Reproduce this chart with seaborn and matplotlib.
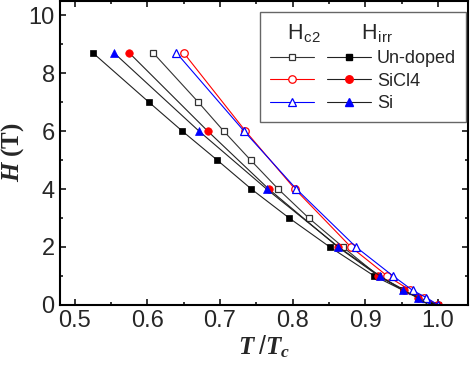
"""H-T phase diagram: Hc2 and Hirr vs reduced temperature."""

import matplotlib
matplotlib.use("Agg")
import pandas as pd
import matplotlib.pyplot as plt
import seaborn as sns
from matplotlib.lines import Line2D
from matplotlib.legend_handler import HandlerTuple
from matplotlib.ticker import MultipleLocator

# Field steps (T)
h_undoped = [8.7, 7, 6, 5, 4, 3, 2, 1, 0.5, 0.25, 0]
h_doped = [8.7, 6, 4, 2, 1, 0.5, 0.25, 0]

# Reduced temperature T/Tc
t_hc2_undoped = [0.608, 0.670, 0.705, 0.742, 0.780, 0.822, 0.869, 0.918, 0.955, 0.975, 1.0]
t_hirr_undoped = [0.525, 0.602, 0.648, 0.696, 0.743, 0.795, 0.851, 0.912, 0.952, 0.972, 0.995]
t_hc2_sicl4 = [0.650, 0.735, 0.803, 0.880, 0.930, 0.962, 0.981, 1.0]
t_hirr_sicl4 = [0.575, 0.683, 0.767, 0.862, 0.918, 0.953, 0.973, 1.0]
t_hc2_si = [0.640, 0.733, 0.805, 0.887, 0.938, 0.965, 0.984, 1.0]
t_hirr_si = [0.554, 0.671, 0.764, 0.863, 0.920, 0.952, 0.972, 0.987]

samples = ["Un-doped", "SiCl4", "Si"]
sample_colors = {"Un-doped": "#333333", "SiCl4": "#ff0000", "Si": "#0000ff"}
sample_markers = {"Un-doped": "s", "SiCl4": "o", "Si": "^"}
sample_msize = {"Un-doped": 4.6, "SiCl4": 5.4, "Si": 5.6}
hirr_line = "#222222"

# long table
rows = []
series = {
    ("Un-doped", "Hc2"): (t_hc2_undoped, h_undoped),
    ("Un-doped", "Hirr"): (t_hirr_undoped, h_undoped),
    ("SiCl4", "Hc2"): (t_hc2_sicl4, h_doped),
    ("SiCl4", "Hirr"): (t_hirr_sicl4, h_doped),
    ("Si", "Hc2"): (t_hc2_si, h_doped),
    ("Si", "Hirr"): (t_hirr_si, h_doped),
}
for (sample, kind), (tt, hh) in series.items():
    for t, h in zip(tt, hh):
        rows.append({"sample": sample, "kind": kind, "t": t, "H": h})
df = pd.DataFrame(rows)

sns.set_style("ticks")
plt.rcParams["font.family"] = ["Liberation Sans", "DejaVu Sans"]
plt.rcParams["mathtext.fontset"] = "custom"
plt.rcParams["mathtext.rm"] = "Liberation Sans"
plt.rcParams["mathtext.it"] = "Liberation Serif:italic:bold"
plt.rcParams["mathtext.bf"] = "Liberation Serif:bold"

fig = plt.figure(figsize=(4.74, 3.66), dpi=100)
ax = fig.add_axes([0.127, 0.167, 0.860, 0.831])

for sample in samples:
    c = sample_colors[sample]
    m = sample_markers[sample]
    ms = sample_msize[sample]
    sub = df[(df["sample"] == sample) & (df["kind"] == "Hc2")]
    sns.lineplot(data=sub, x="t", y="H", ax=ax, estimator=None, sort=False,
                 color=c, lw=0.8, marker=m, markersize=ms,
                 markerfacecolor="white", markeredgecolor=c, markeredgewidth=0.9,
                 legend=False)
    sub = df[(df["sample"] == sample) & (df["kind"] == "Hirr")]
    fc = "black" if sample == "Un-doped" else c
    sns.lineplot(data=sub, x="t", y="H", ax=ax, estimator=None, sort=False,
                 color=hirr_line, lw=0.8, marker=m, markersize=ms,
                 markerfacecolor=fc, markeredgecolor=fc, markeredgewidth=0.5,
                 legend=False)

ax.set_xlim(0.48, 1.041)
ax.set_ylim(0, 10.5)
ax.xaxis.set_major_locator(MultipleLocator(0.1))
ax.xaxis.set_minor_locator(MultipleLocator(0.05))
ax.yaxis.set_major_locator(MultipleLocator(2))
ax.yaxis.set_minor_locator(MultipleLocator(1))
ax.tick_params(which="both", direction="in", top=True, right=True,
               labelsize=17, width=1.3, pad=4)
ax.tick_params(which="major", length=4)
ax.tick_params(which="minor", length=2.2)
for sp in ax.spines.values():
    sp.set_linewidth(1.5)
    sp.set_color("black")
ax.set_xticks([0.5, 0.6, 0.7, 0.8, 0.9, 1.0])
ax.set_xticklabels(["0.5", "0.6", "0.7", "0.8", "0.9", "1.0"])

ax.set_xlabel(r"$T\;/T_{c}$", fontsize=18, labelpad=1)
ax.set_ylabel(r"$H\;\mathbf{(T)}$", fontsize=18, labelpad=2)

# legend: two handle columns (Hc2 open, Hirr filled)
handles = []
for sample in samples:
    c = sample_colors[sample]
    m = sample_markers[sample]
    ms = sample_msize[sample]
    fc = "black" if sample == "Un-doped" else c
    h1 = Line2D([], [], color=c, lw=0.8, marker=m, markersize=ms,
                markerfacecolor="white", markeredgecolor=c, markeredgewidth=0.9)
    h2 = Line2D([], [], color=hirr_line, lw=0.8, marker=m, markersize=ms,
                markerfacecolor=fc, markeredgecolor=fc)
    handles.append((h1, h2))

leg = ax.legend(handles, samples, loc="upper right",
                bbox_to_anchor=(0.995, 0.962), borderaxespad=0,
                handler_map={tuple: HandlerTuple(ndivide=None, pad=0.7)},
                numpoints=1, handlelength=5.6, handletextpad=0.3,
                labelspacing=0.3, borderpad=0.55, fontsize=13, frameon=True,
                fancybox=False, edgecolor="#666666", framealpha=1,
                title="   " + r"$\mathrm{H_{c2}}$" + "       " + r"$\mathrm{H_{irr}}$",
                title_fontsize=15.5, alignment="left")
leg.get_frame().set_linewidth(1.0)
leg._legend_box.sep = 4

fig.savefig("out.png", dpi=100)
